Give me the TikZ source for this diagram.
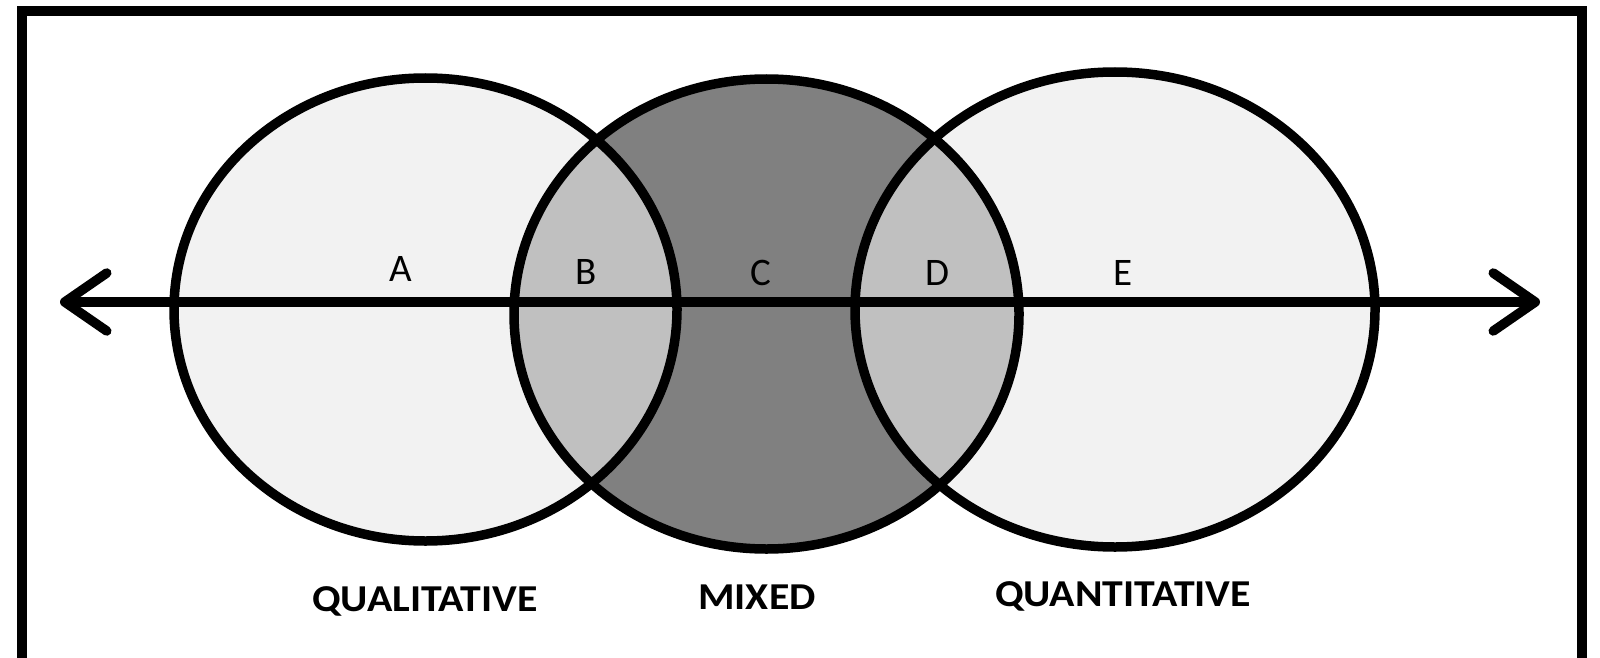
\documentclass[tikz,border=0pt]{standalone}
\usepackage{fontspec}
\setmainfont{Carlito}
\usetikzlibrary{arrows.meta}
\definecolor{palegrey}{HTML}{F2F2F2}
\definecolor{midgrey}{HTML}{C0C0C0}
\definecolor{darkgrey}{HTML}{808080}
\newcommand{\widetxt}[1]{\scalebox{1.1}[1]{#1}}
\begin{document}
\begin{tikzpicture}[x=1pt,y=-1pt,
  ring/.style={draw=black,line width=9.5pt},
  framestyle/.style={draw=black,line width=10pt,line join=miter},
  letterlab/.style={font=\fontsize{39}{42}\selectfont,anchor=base,inner sep=0pt,text=black},
  titlelab/.style={font=\fontsize{38}{40}\selectfont\bfseries,anchor=base,inner sep=0pt,text=black},
  barb/.tip={Straight Barb[length=42pt,width=58pt,line cap=round,line join=round]},
  axis/.style={draw=black,line width=9.5pt,line cap=round,barb-barb}
]
\useasboundingbox (0,0) rectangle (1600,658);
\fill[white] (0,0) rectangle (1600,658);
\def\leftell{(425.5,309.5) ellipse [x radius=251.5pt, y radius=231.5pt]}
\def\midell{(766.5,314) ellipse [x radius=252.5pt, y radius=235pt]}
\def\rightell{(1115,309.5) ellipse [x radius=260pt, y radius=237.5pt]}
% fills
\fill[palegrey] \leftell;
\fill[palegrey] \rightell;
\fill[darkgrey] \midell;
\begin{scope}
  \clip \midell;
  \fill[midgrey] \leftell;
  \fill[midgrey] \rightell;
\end{scope}
% outlines
\path[ring] \leftell;
\path[ring] \midell;
\path[ring] \rightell;
% frame
\draw[framestyle] (22,658) -- (22,11) -- (1582,11) -- (1582,658);
% axis
\coordinate (arrL) at (60,302);
\coordinate (arrR) at (1540,302);
\draw[axis] (arrL) -- (arrR);
% labels
\node[letterlab] (labA) at (401,281) {A};
\node[letterlab] (labB) at (586,284) {B};
\node[letterlab] (labC) at (761,285) {C};
\node[letterlab] (labD) at (937,285) {D};
\node[letterlab] (labE) at (1123,285) {E};
\node[titlelab] (qual) at (425,611) {\widetxt{QUALITATIVE}};
\node[titlelab] (mixed) at (757,609) {\widetxt{MIXED}};
\node[titlelab] (quant) at (1123,606) {\widetxt{QUANTITATIVE}};
\end{tikzpicture}
\end{document}
